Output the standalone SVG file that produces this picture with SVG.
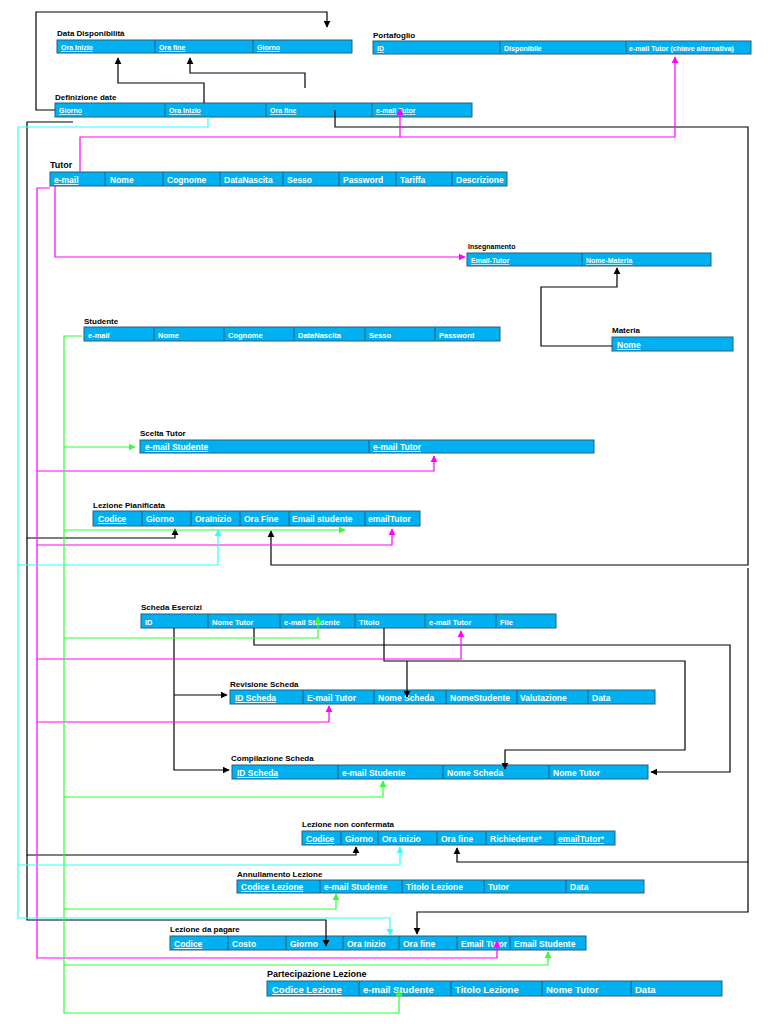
<svg xmlns="http://www.w3.org/2000/svg" width="768" height="1024" viewBox="0 0 768 1024">
<style>
.bar{fill:#00b0f0;stroke:#2a5f7a;stroke-width:1}
.sep{stroke:#2a5f7a;stroke-width:1}
.t{font-family:"Liberation Sans",Arial,sans-serif;font-weight:bold;fill:#fff;font-size:8.5px}
.s{font-size:7px}
.u{text-decoration:underline}
.h{font-family:"Liberation Sans",Arial,sans-serif;font-weight:bold;fill:#000;font-size:8px}
.k{fill:none;stroke:#000;stroke-width:1.2}
.m{fill:none;stroke:#ff00ff;stroke-width:1.2}
.g{fill:none;stroke:#33ff33;stroke-width:1.2}
.c{fill:none;stroke:#33ffff;stroke-width:1.2}
</style>
<defs>
<marker id="ak" viewBox="0 0 10 10" refX="9" refY="5" markerWidth="6" markerHeight="6" orient="auto"><path d="M0,0L10,5L0,10z" fill="#000"/></marker>
<marker id="am" viewBox="0 0 10 10" refX="9" refY="5" markerWidth="6" markerHeight="6" orient="auto"><path d="M0,0L10,5L0,10z" fill="#ff00ff"/></marker>
<marker id="ag" viewBox="0 0 10 10" refX="9" refY="5" markerWidth="6" markerHeight="6" orient="auto"><path d="M0,0L10,5L0,10z" fill="#33ff33"/></marker>
<marker id="ac" viewBox="0 0 10 10" refX="9" refY="5" markerWidth="6" markerHeight="6" orient="auto"><path d="M0,0L10,5L0,10z" fill="#33ffff"/></marker>
</defs>
<rect width="768" height="1024" fill="#fff"/>

<g id="data-disponibilita">
<text class="h" x="57" y="36">Data Disponibilità</text>
<rect class="bar" x="57" y="40" width="295" height="13"/>
<line class="sep" x1="155" y1="40" x2="155" y2="53"/><line class="sep" x1="253" y1="40" x2="253" y2="53"/>
<text class="t s u" x="61" y="50">Ora Inizio</text><text class="t s u" x="159" y="50">Ora fine</text><text class="t s u" x="257" y="50">Giorno</text>
</g>

<g id="portafoglio">
<text class="h" x="373" y="38">Portafoglio</text>
<rect class="bar" x="373" y="41" width="378" height="13"/>
<line class="sep" x1="500" y1="41" x2="500" y2="54"/><line class="sep" x1="626" y1="41" x2="626" y2="54"/>
<text class="t s u" x="377" y="51">ID</text><text class="t s" x="504" y="51">Disponibile</text><text class="t s" x="629" y="51">e-mail Tutor (chiave alternativa)</text>
</g>

<g id="definizione-date">
<text class="h" x="55" y="100">Definizione date</text>
<rect class="bar" x="55" y="103" width="417" height="14"/>
<line class="sep" x1="165" y1="103" x2="165" y2="117"/><line class="sep" x1="266" y1="103" x2="266" y2="117"/><line class="sep" x1="372" y1="103" x2="372" y2="117"/>
<text class="t s u" x="59" y="113">Giorno</text><text class="t s u" x="169" y="113">Ora Inizio</text><text class="t s u" x="270" y="113">Ora fine</text><text class="t s u" x="376" y="113">e-mail Tutor</text>
</g>

<g id="tutor">
<text class="h" x="50" y="168" style="font-size:9px">Tutor</text>
<rect class="bar" x="50" y="172" width="457" height="14"/>
<line class="sep" x1="105" y1="172" x2="105" y2="186"/><line class="sep" x1="163" y1="172" x2="163" y2="186"/><line class="sep" x1="220" y1="172" x2="220" y2="186"/><line class="sep" x1="283" y1="172" x2="283" y2="186"/><line class="sep" x1="339" y1="172" x2="339" y2="186"/><line class="sep" x1="396" y1="172" x2="396" y2="186"/><line class="sep" x1="452" y1="172" x2="452" y2="186"/>
<text class="t u" x="54" y="183">e-mail</text><text class="t" x="110" y="183">Nome</text><text class="t" x="167" y="183">Cognome</text><text class="t" x="224" y="183">DataNascita</text><text class="t" x="287" y="183">Sesso</text><text class="t" x="343" y="183">Password</text><text class="t" x="400" y="183">Tariffa</text><text class="t" x="456" y="183">Descrizione</text>
</g>

<g id="insegnamento">
<text class="h" x="468" y="249" style="font-size:7px">Insegnamento</text>
<rect class="bar" x="467" y="253" width="244" height="13"/>
<line class="sep" x1="582" y1="253" x2="582" y2="266"/>
<text class="t s u" x="471" y="263">Email-Tutor</text><text class="t s u" x="586" y="263">Nome-Materia</text>
</g>

<g id="materia">
<text class="h" x="612" y="333">Materia</text>
<rect class="bar" x="612" y="337" width="121" height="14"/>
<text class="t u" x="617" y="348">Nome</text>
</g>

<g id="studente">
<text class="h" x="84" y="324">Studente</text>
<rect class="bar" x="84" y="327" width="416" height="14"/>
<line class="sep" x1="154" y1="327" x2="154" y2="341"/><line class="sep" x1="224" y1="327" x2="224" y2="341"/><line class="sep" x1="294" y1="327" x2="294" y2="341"/><line class="sep" x1="365" y1="327" x2="365" y2="341"/><line class="sep" x1="435" y1="327" x2="435" y2="341"/>
<text class="t" x="88" y="338" style="font-size:7.5px">e-mail</text><text class="t" x="158" y="338" style="font-size:7.5px">Nome</text><text class="t" x="228" y="338" style="font-size:7.5px">Cognome</text><text class="t" x="298" y="338" style="font-size:7.5px">DataNascita</text><text class="t" x="369" y="338" style="font-size:7.5px">Sesso</text><text class="t" x="439" y="338" style="font-size:7.5px">Password</text>
</g>

<g id="scelta-tutor">
<text class="h" x="140" y="436">Scelta Tutor</text>
<rect class="bar" x="140" y="440" width="454" height="13"/>
<line class="sep" x1="369" y1="440" x2="369" y2="453"/>
<text class="t u" x="145" y="450">e-mail Studente</text><text class="t u" x="373" y="450">e-mail Tutor</text>
</g>

<g id="lezione-pianificata">
<text class="h" x="93" y="508">Lezione Pianificata</text>
<rect class="bar" x="93" y="511" width="327" height="15"/>
<line class="sep" x1="142" y1="511" x2="142" y2="526"/><line class="sep" x1="191" y1="511" x2="191" y2="526"/><line class="sep" x1="240" y1="511" x2="240" y2="526"/><line class="sep" x1="289" y1="511" x2="289" y2="526"/><line class="sep" x1="365" y1="511" x2="365" y2="526"/>
<text class="t u" x="98" y="522">Codice</text><text class="t" x="146" y="522">Giorno</text><text class="t" x="195" y="522">OraInizio</text><text class="t" x="244" y="522">Ora Fine</text><text class="t" x="292" y="522">Email studente</text><text class="t" x="368" y="522">emailTutor</text>
</g>

<g id="scheda-esercizi">
<text class="h" x="141" y="610">Scheda Esercizi</text>
<rect class="bar" x="141" y="614" width="415" height="14"/>
<line class="sep" x1="208" y1="614" x2="208" y2="628"/><line class="sep" x1="280" y1="614" x2="280" y2="628"/><line class="sep" x1="355" y1="614" x2="355" y2="628"/><line class="sep" x1="425" y1="614" x2="425" y2="628"/><line class="sep" x1="496" y1="614" x2="496" y2="628"/>
<text class="t" x="145" y="625" style="font-size:7.5px">ID</text><text class="t" x="212" y="625" style="font-size:7.5px">Nome Tutor</text><text class="t" x="284" y="625" style="font-size:7.5px">e-mail Studente</text><text class="t" x="359" y="625" style="font-size:7.5px">Titolo</text><text class="t" x="429" y="625" style="font-size:7.5px">e-mail Tutor</text><text class="t" x="500" y="625" style="font-size:7.5px">File</text>
</g>

<g id="revisione-scheda">
<text class="h" x="230" y="687">Revisione Scheda</text>
<rect class="bar" x="230" y="690" width="425" height="14"/>
<line class="sep" x1="303" y1="690" x2="303" y2="704"/><line class="sep" x1="374" y1="690" x2="374" y2="704"/><line class="sep" x1="446" y1="690" x2="446" y2="704"/><line class="sep" x1="517" y1="690" x2="517" y2="704"/><line class="sep" x1="588" y1="690" x2="588" y2="704"/>
<text class="t u" x="235" y="701">ID Scheda</text><text class="t" x="307" y="701">E-mail Tutor</text><text class="t" x="378" y="701">Nome Scheda</text><text class="t" x="450" y="701">NomeStudente</text><text class="t" x="520" y="701">Valutazione</text><text class="t" x="592" y="701">Data</text>
</g>

<g id="compilazione-scheda">
<text class="h" x="231" y="761">Compilazione Scheda</text>
<rect class="bar" x="232" y="765" width="416" height="14"/>
<line class="sep" x1="338" y1="765" x2="338" y2="779"/><line class="sep" x1="443" y1="765" x2="443" y2="779"/><line class="sep" x1="549" y1="765" x2="549" y2="779"/>
<text class="t u" x="237" y="776">ID Scheda</text><text class="t" x="342" y="776">e-mail Studente</text><text class="t" x="447" y="776">Nome Scheda</text><text class="t" x="553" y="776">Nome Tutor</text>
</g>

<g id="lezione-non-confermata">
<text class="h" x="302" y="827">Lezione non confermata</text>
<rect class="bar" x="302" y="831" width="313" height="14"/>
<line class="sep" x1="341" y1="831" x2="341" y2="845"/><line class="sep" x1="378" y1="831" x2="378" y2="845"/><line class="sep" x1="437" y1="831" x2="437" y2="845"/><line class="sep" x1="486" y1="831" x2="486" y2="845"/><line class="sep" x1="555" y1="831" x2="555" y2="845"/>
<text class="t u" x="306" y="842">Codice</text><text class="t" x="345" y="842">Giorno</text><text class="t" x="382" y="842">Ora inizio</text><text class="t" x="441" y="842">Ora fine</text><text class="t" x="490" y="842">Richiedente*</text><text class="t u" x="558" y="842">emailTutor*</text>
</g>

<g id="annullamento-lezione">
<text class="h" x="237" y="877">Annullamento Lezione</text>
<rect class="bar" x="237" y="880" width="407" height="13"/>
<line class="sep" x1="320" y1="880" x2="320" y2="893"/><line class="sep" x1="402" y1="880" x2="402" y2="893"/><line class="sep" x1="484" y1="880" x2="484" y2="893"/><line class="sep" x1="566" y1="880" x2="566" y2="893"/>
<text class="t u" x="241" y="890">Codice Lezione</text><text class="t" x="324" y="890">e-mail Studente</text><text class="t" x="406" y="890">Titolo Lezione</text><text class="t" x="488" y="890">Tutor</text><text class="t" x="570" y="890">Data</text>
</g>

<g id="lezione-da-pagare">
<text class="h" x="170" y="932">Lezione da pagare</text>
<rect class="bar" x="170" y="936" width="416" height="14"/>
<line class="sep" x1="228" y1="936" x2="228" y2="950"/><line class="sep" x1="286" y1="936" x2="286" y2="950"/><line class="sep" x1="343" y1="936" x2="343" y2="950"/><line class="sep" x1="399" y1="936" x2="399" y2="950"/><line class="sep" x1="457" y1="936" x2="457" y2="950"/><line class="sep" x1="510" y1="936" x2="510" y2="950"/>
<text class="t u" x="174" y="947">Codice</text><text class="t" x="232" y="947">Costo</text><text class="t" x="290" y="947">Giorno</text><text class="t" x="347" y="947">Ora Inizio</text><text class="t" x="403" y="947">Ora fine</text><text class="t" x="461" y="947">Email Tutor</text><text class="t" x="514" y="947">Email Studente</text>
</g>

<g id="partecipazione-lezione">
<text class="h" x="267" y="977" style="font-size:9px">Partecipazione Lezione</text>
<rect class="bar" x="267" y="981" width="455" height="15"/>
<line class="sep" x1="359" y1="981" x2="359" y2="996"/><line class="sep" x1="451" y1="981" x2="451" y2="996"/><line class="sep" x1="542" y1="981" x2="542" y2="996"/><line class="sep" x1="631" y1="981" x2="631" y2="996"/>
<text class="t u" x="272" y="993" style="font-size:9.5px">Codice Lezione</text><text class="t" x="363" y="993" style="font-size:9.5px">e-mail Studente</text><text class="t" x="455" y="993" style="font-size:9.5px">Titolo Lezione</text><text class="t" x="546" y="993" style="font-size:9.5px">Nome Tutor</text><text class="t" x="635" y="993" style="font-size:9.5px">Data</text>
</g>

<g id="connectors">
<path class="k" d="M55,110H36V12H327V27" marker-end="url(#ak)"/>
<path class="k" d="M204,103V83H118V58" marker-end="url(#ak)"/>
<path class="k" d="M305,88V73H190V58" marker-end="url(#ak)"/>
<path class="k" d="M335,110V127H748V565H271V531" marker-end="url(#ak)"/>
<path class="k" d="M748,568V862H457V848" marker-end="url(#ak)"/>
<path class="k" d="M748,862V912H417V934" marker-end="url(#ak)"/>
<path class="k" d="M73,122H27V538H175V529" marker-end="url(#ak)"/>
<path class="k" d="M27,538V855H356V847" marker-end="url(#ak)"/>
<path class="k" d="M27,855V920H326V946" marker-end="url(#ak)"/>
<path class="k" d="M612,346H541V287H617V268" marker-end="url(#ak)"/>
<path class="k" d="M174,628V770H229" marker-end="url(#ak)"/>
<path class="k" d="M174,695H227" marker-end="url(#ak)"/>
<path class="k" d="M254,628V645H730V772H651" marker-end="url(#ak)"/>
<path class="k" d="M384,628V661H685V750H505V769" marker-end="url(#ak)"/>
<path class="k" d="M407,661V697" marker-end="url(#ak)"/>
<path class="m" d="M80,172V137H675V57" marker-end="url(#am)"/>
<path class="m" d="M400,137V109" marker-end="url(#am)"/>
<path class="m" d="M55,186V257H465" marker-end="url(#am)"/>
<path class="m" d="M50,188H37V958H497V941" marker-end="url(#am)"/>
<path class="m" d="M37,471H434V456" marker-end="url(#am)"/>
<path class="m" d="M37,545H392V529" marker-end="url(#am)"/>
<path class="m" d="M37,659H461V631" marker-end="url(#am)"/>
<path class="m" d="M37,722H329V706" marker-end="url(#am)"/>
<path class="g" d="M82,336H64V1013H399V990" marker-end="url(#ag)"/>
<path class="g" d="M64,447H135" marker-end="url(#ag)"/>
<path class="g" d="M64,530H345" marker-end="url(#ag)"/>
<path class="g" d="M64,638H318V617" marker-end="url(#ag)"/>
<path class="g" d="M64,797H383V781" marker-end="url(#ag)"/>
<path class="g" d="M64,909H336V894" marker-end="url(#ag)"/>
<path class="g" d="M64,965H548V952" marker-end="url(#ag)"/>
<path class="c" d="M208,117V127H18V918H390V935" marker-end="url(#ac)"/>
<path class="c" d="M18,565H218V530" marker-end="url(#ac)"/>
<path class="c" d="M18,865H400V847" marker-end="url(#ac)"/>
</g>
</svg>
